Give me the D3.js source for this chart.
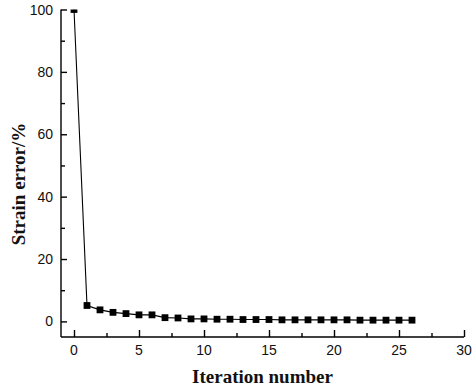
<!DOCTYPE html>
<html>
<head>
<meta charset="utf-8">
<script src="https://cdn.jsdelivr.net/npm/d3@7"></script>
<style>
  body { margin: 0; background: #fff; }
  svg { display: block; }
</style>
</head>
<body>
<svg id="chart" width="474" height="389"></svg>
<script>
// Iteration data
const iterations = d3.range(0, 27);
const strainError = [100, 5.1, 3.7, 2.9, 2.5, 2.1, 2.1, 1.2, 1.1, 0.8, 0.8, 0.7, 0.7,
  0.6, 0.6, 0.6, 0.5, 0.5, 0.5, 0.5, 0.5, 0.5, 0.4, 0.4, 0.4, 0.4, 0.4];
const xTicks = [0, 5, 10, 15, 20, 25, 30];
const yTicks = [0, 20, 40, 60, 80, 100];

const width = 474, height = 389;
const margin = {top: 9.5, left: 61, right: 10, bottom: 52};

const svg = d3.select('#chart');

const x = d3.scaleLinear().domain([-1, 30]).range([margin.left, 464]);
const y = d3.scaleLinear().domain([-5, 100]).range([height - margin.bottom, margin.top]);

// clip to plot region (top marker is half cut in the original)
svg.append('clipPath').attr('id', 'plotclip')
  .append('rect')
  .attr('x', margin.left).attr('y', margin.top)
  .attr('width', 464 - margin.left).attr('height', y(-5) - margin.top);

const data = iterations.map((d, i) => ({x: d, y: strainError[i]}));

const plot = svg.append('g').attr('clip-path', 'url(#plotclip)');

const line = d3.line().x(d => x(d.x)).y(d => y(d.y));
plot.append('path')
  .datum(data)
  .attr('d', line)
  .attr('fill', 'none')
  .attr('stroke', '#000')
  .attr('stroke-width', 1.1);

const ms = 6.8;
plot.selectAll('rect.pt').data(data)
  .enter().append('rect')
  .attr('class', 'pt')
  .attr('x', d => x(d.x) - ms / 2)
  .attr('y', d => y(d.y) - ms / 2)
  .attr('width', ms).attr('height', ms)
  .attr('fill', '#000');

// Axes: major ticks pointing inward, minor ticks in between
const xAxis = svg.append('g').attr('transform', `translate(0,${y(-5)})`);
xAxis.call(d3.axisTop(x).tickValues(d3.range(2.5, 30, 5)).tickSize(4).tickFormat(''));
xAxis.call(g => g.append('g').call(d3.axisTop(x).tickValues(xTicks).tickSize(7).tickFormat('')));
xAxis.selectAll('.domain').remove();
xAxis.append('line')
  .attr('x1', x(-1)).attr('x2', x(30))
  .attr('stroke', '#000').attr('stroke-width', 1.6);
xAxis.selectAll('line').attr('stroke', '#000').attr('stroke-width', 1.4);
xAxis.selectAll('.xlab').data(xTicks).enter().append('text')
  .attr('class', 'xlab')
  .attr('x', d => x(d))
  .attr('y', 18)
  .attr('text-anchor', 'middle')
  .attr('font-family', 'Liberation Sans, Arial, sans-serif')
  .attr('font-size', 14)
  .attr('fill', '#111')
  .text(d => d);

const yAxis = svg.append('g').attr('transform', `translate(${margin.left},0)`);
yAxis.call(d3.axisRight(y).tickValues(d3.range(10, 100, 20)).tickSize(4).tickFormat(''));
yAxis.call(g => g.append('g').call(d3.axisRight(y).tickValues(yTicks).tickSize(6).tickFormat('')));
yAxis.selectAll('.domain').remove();
yAxis.append('line')
  .attr('y1', y(-5)).attr('y2', margin.top)
  .attr('stroke', '#000').attr('stroke-width', 1.6);
yAxis.selectAll('line').attr('stroke', '#000').attr('stroke-width', 1.4);
yAxis.selectAll('.ylab').data(yTicks).enter().append('text')
  .attr('class', 'ylab')
  .attr('x', -8)
  .attr('y', d => y(d) + 5)
  .attr('text-anchor', 'end')
  .attr('font-family', 'Liberation Sans, Arial, sans-serif')
  .attr('font-size', 14)
  .attr('fill', '#111')
  .text(d => d);

// Axis titles
svg.append('text')
  .attr('x', (margin.left + 464) / 2)
  .attr('y', 383)
  .attr('text-anchor', 'middle')
  .attr('font-family', 'Liberation Serif, Times New Roman, serif')
  .attr('font-weight', 'bold')
  .attr('font-size', 19)
  .attr('fill', '#111')
  .text('Iteration number');

svg.append('text')
  .attr('transform', 'translate(25,184) rotate(-90)')
  .attr('text-anchor', 'middle')
  .attr('font-family', 'Liberation Serif, Times New Roman, serif')
  .attr('font-weight', 'bold')
  .attr('font-size', 19)
  .attr('fill', '#111')
  .text('Strain error/%');
</script>
</body>
</html>
